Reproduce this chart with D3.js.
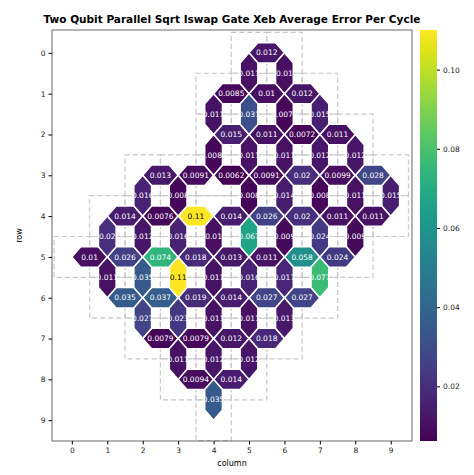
<!DOCTYPE html>
<html><head><meta charset="utf-8">
<script src="https://cdn.jsdelivr.net/npm/d3@7"></script>
<style>body{margin:0;background:#fff}text{font-family:"DejaVu Sans",sans-serif}</style>
</head><body><svg id="c" width="474" height="475"></svg>
<script>
// qubits per row: [row, firstCol, lastCol]
const qubitRows = [[0,5,6],[1,4,7],[2,4,8],[3,2,9],[4,1,9],[5,0,8],[6,1,7],[7,2,6],[8,3,5],[9,4,4]];
// horizontal couplers: [row, leftCol, value]
const hCouplers = [
 [0,5,0.012],
 [1,4,0.0085],[1,5,0.01],[1,6,0.012],
 [2,4,0.015],[2,5,0.011],[2,6,0.0072],[2,7,0.011],
 [3,2,0.013],[3,3,0.0091],[3,4,0.0062],[3,5,0.0091],[3,6,0.02],[3,7,0.0099],[3,8,0.028],
 [4,1,0.014],[4,2,0.0076],[4,3,0.11],[4,4,0.014],[4,5,0.026],[4,6,0.02],[4,7,0.011],[4,8,0.011],
 [5,0,0.01],[5,1,0.026],[5,2,0.074],[5,3,0.018],[5,4,0.013],[5,5,0.011],[5,6,0.058],[5,7,0.024],
 [6,1,0.035],[6,2,0.037],[6,3,0.019],[6,4,0.014],[6,5,0.027],[6,6,0.027],
 [7,2,0.0079],[7,3,0.0079],[7,4,0.012],[7,5,0.018],
 [8,3,0.0094],[8,4,0.014]
];
// vertical couplers: [topRow, col, value]
const vCouplers = [
 [0,5,0.011],[0,6,0.01],
 [1,4,0.011],[1,5,0.031],[1,6,0.0079],[1,7,0.015],
 [2,4,0.0081],[2,5,0.011],[2,6,0.011],[2,7,0.012],[2,8,0.012],
 [3,2,0.016],[3,3,0.008],[3,5,0.008],[3,6,0.014],[3,7,0.008],[3,8,0.011],[3,9,0.015],
 [4,1,0.02],[4,2,0.012],[4,3,0.016],[4,4,0.01],[4,5,0.067],[4,6,0.009],[4,7,0.024],[4,8,0.009],
 [5,1,0.011],[5,2,0.035],[5,3,0.11],[5,4,0.011],[5,5,0.016],[5,6,0.017],[5,7,0.077],
 [6,2,0.027],[6,3,0.023],[6,4,0.011],[6,5,0.011],[6,6,0.013],
 [7,3,0.011],[7,4,0.012],[7,5,0.012],
 [8,4,0.035]
];
const colTicks = d3.range(0,10), rowTicks = d3.range(0,10);
const cbTicks = [0.02,0.04,0.06,0.08,0.10];

const svg = d3.select("#c");
const L=52,R=412,T=30,B=441;
const x = d3.scaleLinear().domain([-0.56,9.6]).range([L,R]);
const y = d3.scaleLinear().domain([-0.56,9.51]).range([T,B]);
const all = hCouplers.map(d=>d[2]).concat(vCouplers.map(d=>d[2]));
const dom = d3.extent(all);
const color = d3.scaleSequential(d3.interpolateViridis).domain(dom);

svg.append("text").attr("x",(L+R)/2).attr("y",23).attr("text-anchor","middle")
  .attr("font-size",10.5).attr("font-weight","bold").text("Two Qubit Parallel Sqrt Iswap Gate Xeb Average Error Per Cycle");

const g = svg.append("g");
// qubit dashed squares
const qubits=[];
qubitRows.forEach(([r,a,b])=>{for(let c=a;c<=b;c++)qubits.push([r,c]);});
g.selectAll("rect.q").data(qubits).join("rect")
 .attr("x",d=>x(d[1]-0.5)).attr("y",d=>y(d[0]-0.5))
 .attr("width",x(1)-x(0)).attr("height",y(1)-y(0))
 .attr("fill","none").attr("stroke","#c8c8c8").attr("stroke-width",1.2).attr("stroke-dasharray","5,3");

const items = hCouplers.map(([r,c,v])=>({cx:c+0.5,cy:r,v,h:true}))
  .concat(vCouplers.map(([r,c,v])=>({cx:c,cy:r+0.5,v,h:false})));
const hp=[[-0.5,0],[-0.25,-0.25],[0.25,-0.25],[0.5,0],[0.25,0.25],[-0.25,0.25]];
const vp=hp.map(p=>[p[1],p[0]]);
g.selectAll("path.c").data(items).join("path")
 .attr("d",d=>"M"+(d.h?hp:vp).map(p=>[x(d.cx+p[0]),y(d.cy+p[1])].join(",")).join("L")+"Z")
 .attr("fill",d=>color(d.v)).attr("stroke","#fff").attr("stroke-width",1.5);
const fmt=d3.format(".2");
g.selectAll("text.l").data(items).join("text")
 .attr("x",d=>x(d.cx)).attr("y",d=>y(d.cy)).attr("dy","0.35em").attr("text-anchor","middle")
 .attr("font-size",7.5).attr("fill",d=>d.v>0.09?"#000":"#fff")
 .text(d=>String(+d.v.toPrecision(2)));

svg.append("rect").attr("x",L).attr("y",T).attr("width",R-L).attr("height",B-T)
 .attr("fill","none").attr("stroke","#444").attr("stroke-width",0.8);
svg.append("g").attr("transform",`translate(0,${B})`)
 .call(d3.axisBottom(x).tickValues(colTicks).tickSize(3.5).tickSizeOuter(0))
 .call(a=>{a.select(".domain").remove();a.selectAll("text").attr("font-size",7.5).attr("fill","#222");});
svg.append("g").attr("transform",`translate(${L},0)`)
 .call(d3.axisLeft(y).tickValues(rowTicks).tickSize(3.5).tickSizeOuter(0))
 .call(a=>{a.select(".domain").remove();a.selectAll("text").attr("font-size",7.5).attr("fill","#222");});
svg.append("text").attr("x",(L+R)/2).attr("y",466).attr("text-anchor","middle").attr("font-size",8).text("column");
svg.append("text").attr("transform",`translate(22,${(T+B)/2}) rotate(-90)`).attr("text-anchor","middle").attr("font-size",8).text("row");

// colorbar
const cbX=420,cbW=17;
const cy = d3.scaleLinear().domain(dom).range([B,T]);
const defs=svg.append("defs");
const grad=defs.append("linearGradient").attr("id","vg").attr("x1",0).attr("y1",1).attr("x2",0).attr("y2",0);
d3.range(0,1.0001,0.05).forEach(t=>grad.append("stop").attr("offset",t).attr("stop-color",d3.interpolateViridis(t)));
svg.append("rect").attr("x",cbX).attr("y",T).attr("width",cbW).attr("height",B-T).attr("fill","url(#vg)");
svg.append("g").attr("transform",`translate(${cbX+cbW},0)`)
 .call(d3.axisRight(cy).tickValues(cbTicks).tickFormat(d3.format(".2f")).tickSize(3).tickSizeOuter(0))
 .call(a=>{a.select(".domain").remove();a.selectAll("text").attr("font-size",7.5).attr("fill","#222");});
</script></body></html>
